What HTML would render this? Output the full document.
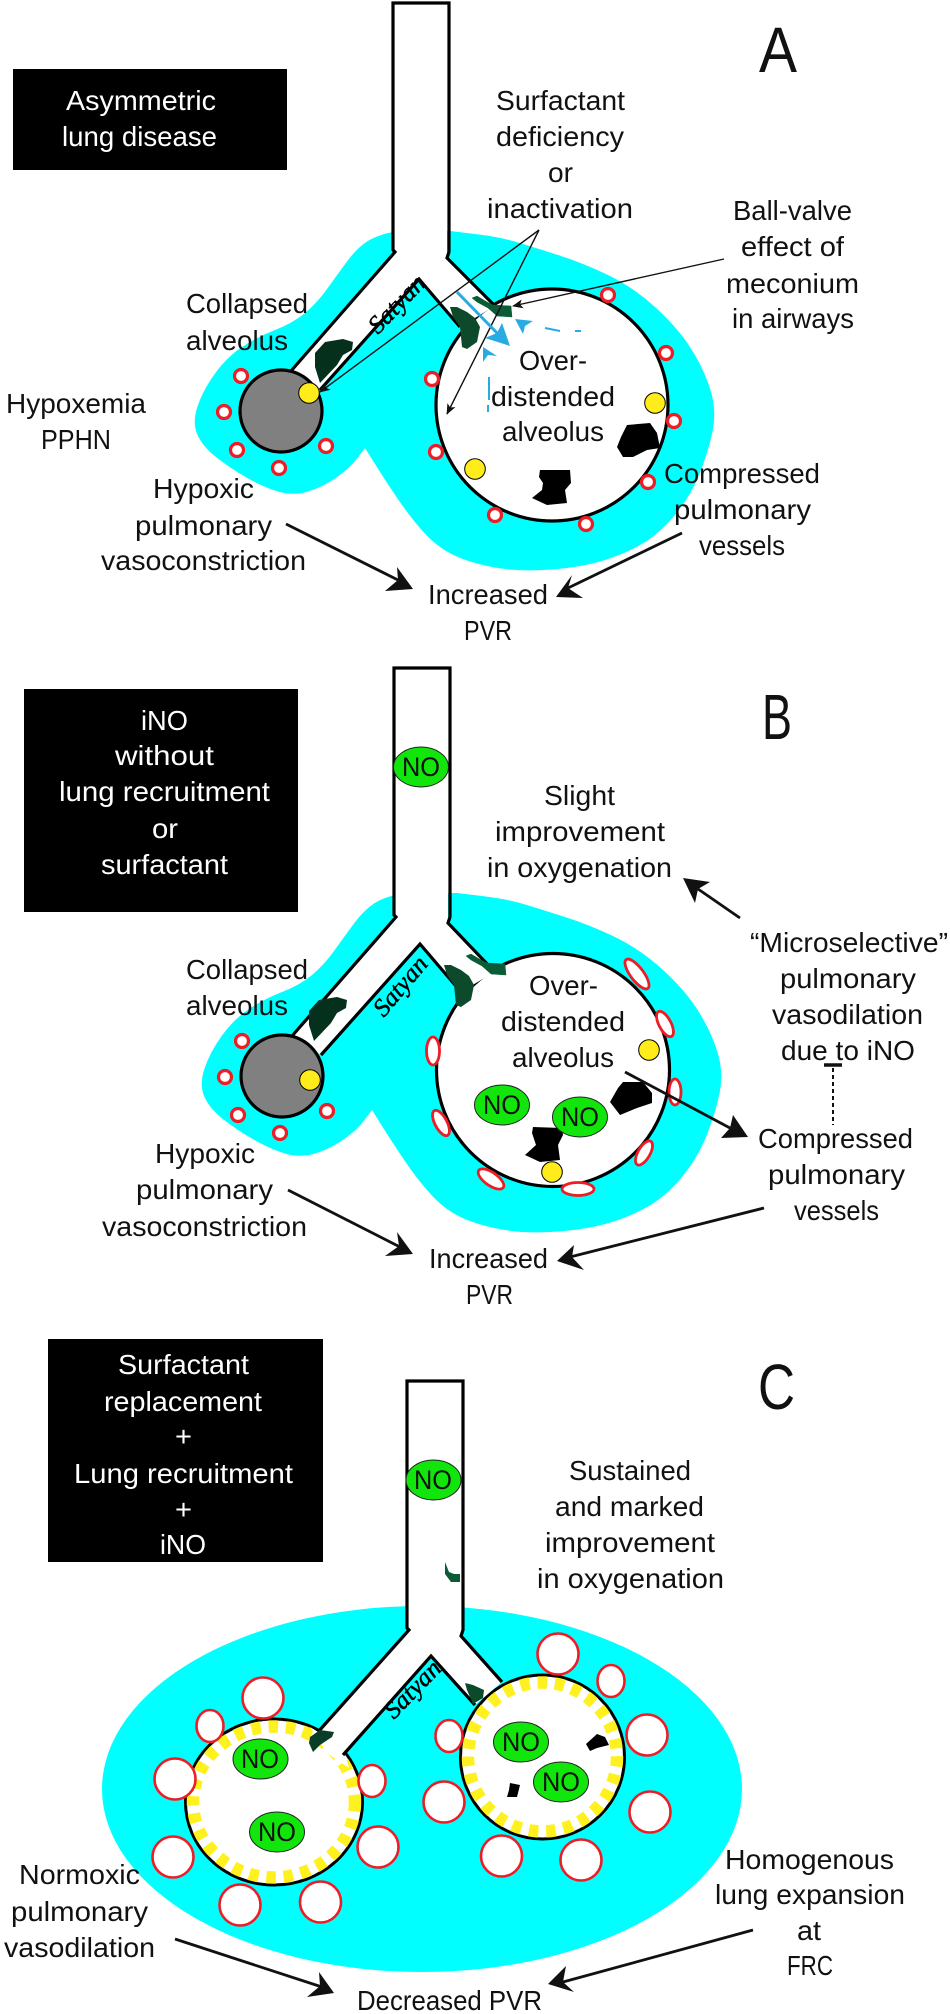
<!DOCTYPE html>
<html><head><meta charset="utf-8"><style>
html,body{margin:0;padding:0;background:#fff}
svg{display:block}
text{font-family:"Liberation Sans",sans-serif;font-size:27.5px;fill:#111}
.w text{fill:#fff}
.no{font-size:27px}
.big{font-size:64px}
.sat{font-family:"Liberation Serif",serif;font-style:italic;font-size:25px;fill:#000;stroke:#000;stroke-width:.5}
</style></head><body>
<svg xmlns="http://www.w3.org/2000/svg" width="950" height="2014" viewBox="0 0 950 2014">
<defs>
<marker id="t" viewBox="0 0 12 10" refX="11" refY="5" markerWidth="11" markerHeight="9" markerUnits="userSpaceOnUse" orient="auto"><path d="M0 0L12 5L0 10L3 5Z" fill="#111"/></marker>
<path id="blob" d="M393,232 Q377,235 367,241.5 Q357,248 347,261.5 Q337,275 327,289 Q317,303 305,313 Q293,323 275,330 Q257,337 242,347 Q227,357 215,373.5 Q203,390 197.5,406.5 Q192,423 197.5,435 Q203,447 216.5,457.5 Q230,468 246.5,477.5 Q263,487 278,491.5 Q293,496 308,491.5 Q323,487 336.5,477.5 Q350,468 357.5,458 L365,448 L375,464 Q385,480 397.5,498.5 Q410,517 423.5,532 Q437,547 453.5,555 Q470,563 495,567.5 Q520,572 551.5,569.5 Q583,567 605,560 Q627,553 643.5,543 Q660,533 675,515 Q690,497 699,475 Q708,453 712.5,431.5 Q717,410 710,388.5 Q703,367 690,347 Q677,327 655,307 Q633,287 608,275 Q583,263 558,255 Q533,247 516.5,242 Q500,237 475,234 L450,231 Z" fill="#00ffff"/>
<g id="mec">
<polygon points="472,298 477,296 487,302 493,305 511,306 512,317 497,316 488,308 477,302" fill="#0b5c36" stroke="#063" stroke-width=".5"/>
<path d="M450,307L457,307L467,312L475,318L480,327L477,342L467,349L462,347L460,327L453,317Z" fill="#0c4a2b"/>
<path d="M315,353L325,342L343,339L353,342L352,350L343,355L337,365L320,383L315,367Z" fill="#05301c"/>
</g>
<polygon id="tube" points="393,3 447,3 447,258 495,306 460,327 419,279 320,390 291,371 393,252" fill="#fff"/>
<g id="red"><g fill="#fff" stroke="#ee1c25" stroke-width="3.2"><circle cx="241" cy="376" r="6.5"/><circle cx="224" cy="412" r="6.5"/><circle cx="237" cy="450" r="6.5"/><circle cx="279" cy="468" r="6.5"/><circle cx="326" cy="446" r="6.5"/></g></g>
</defs>

<!-- PANEL A -->
<use href="#blob"/>
<circle cx="552" cy="405" r="116" fill="#fff" stroke="#000" stroke-width="3.2"/>
<use href="#tube"/>
<g fill="none" stroke="#000" stroke-width="3.2" stroke-linejoin="miter">
<path d="M291,371L395,252L393,250L393,3H449V252L447,258L495,306"/>
<path d="M320,390L419,279L460,327"/>
</g>
<circle cx="281" cy="411" r="41" fill="#808080" stroke="#000" stroke-width="3.2"/>
<use href="#mec"/>
<path d="M627,425L650,423L657,433L660,448L647,450L633,457L623,457L617,447L621,437Z" fill="#000"/>
<path d="M540,470L570,470L571,483L565,490L567,503L547,505L532,498L542,490L543,483L539,477Z" fill="#000"/>
<use href="#red"/>
<g fill="#fff" stroke="#ee1c25" stroke-width="3.2">
<circle cx="432" cy="379" r="6.5"/><circle cx="436" cy="452" r="6.5"/><circle cx="495" cy="515" r="6.5"/><circle cx="586" cy="524" r="6.5"/><circle cx="648" cy="482" r="6.5"/><circle cx="674" cy="421" r="6.5"/><circle cx="666" cy="353" r="6.5"/><circle cx="608" cy="295" r="6.5"/>
</g>
<g fill="#ffec1a" stroke="#000" stroke-width="1">
<circle cx="309" cy="393" r="10.3"/><circle cx="475" cy="469" r="10.3"/><circle cx="655" cy="403" r="10.3"/>
</g>
<!-- thin arrows -->
<g stroke="#111" stroke-width="1.4" fill="none">
<path d="M539,230L320,392" marker-end="url(#t)"/>
<path d="M539,230L447,414" marker-end="url(#t)"/>
<path d="M724,259L513,306" marker-end="url(#t)"/>
</g>
<!-- blue -->
<g stroke="#29abe2" fill="none">
<path d="M457,292L498,334" stroke-width="3"/>
<path d="M545,328L560,331M575,331L581,331" stroke-width="2"/>
<path d="M489,377V400M488,405V412" stroke-width="2"/>
</g>
<g fill="#29abe2">
<polygon points="510,346 485,338 497,333 502,323"/>
<polygon points="515,319 533,321 525,326 523,334"/>
<polygon points="483,347 497,356 488,355 483,362"/>
</g>
<!-- big arrows -->
<g stroke="#111" stroke-width="2.8" fill="none">
<path d="M286,524L398,580"/><path d="M682,533L568,588"/>
</g>
<polygon points="413,589 385,591 398,580 397,567" fill="#111"/>
<polygon points="556,597 572,575 568,588 583,598" fill="#111"/>
<text x="759" y="72" class="big" textLength="38" lengthAdjust="spacingAndGlyphs">A</text>

<rect x="13" y="69" width="274" height="101" fill="#000"/>
<g class="w">
<text x="66" y="110" textLength="150" lengthAdjust="spacingAndGlyphs">Asymmetric</text>
<text x="62" y="146" textLength="155" lengthAdjust="spacingAndGlyphs">lung disease</text>
</g>
<g>
<text x="496" y="110" textLength="129" lengthAdjust="spacingAndGlyphs">Surfactant</text>
<text x="496" y="146" textLength="128" lengthAdjust="spacingAndGlyphs">deficiency</text>
<text x="548" y="182" textLength="25" lengthAdjust="spacingAndGlyphs">or</text>
<text x="487" y="218" textLength="146" lengthAdjust="spacingAndGlyphs">inactivation</text>
<text x="733" y="220" textLength="119" lengthAdjust="spacingAndGlyphs">Ball-valve</text>
<text x="741" y="256" textLength="103" lengthAdjust="spacingAndGlyphs">effect of</text>
<text x="726" y="293" textLength="133" lengthAdjust="spacingAndGlyphs">meconium</text>
<text x="732" y="328" textLength="122" lengthAdjust="spacingAndGlyphs">in airways</text>
<text x="186" y="313" textLength="122" lengthAdjust="spacingAndGlyphs">Collapsed</text>
<text x="186" y="350" textLength="102" lengthAdjust="spacingAndGlyphs">alveolus</text>
<text x="6" y="413" textLength="140" lengthAdjust="spacingAndGlyphs">Hypoxemia</text>
<text x="41" y="449" textLength="70" lengthAdjust="spacingAndGlyphs">PPHN</text>
<text x="153" y="498" textLength="101" lengthAdjust="spacingAndGlyphs">Hypoxic</text>
<text x="135" y="535" textLength="137" lengthAdjust="spacingAndGlyphs">pulmonary</text>
<text x="101" y="570" textLength="205" lengthAdjust="spacingAndGlyphs">vasoconstriction</text>
<text x="519" y="370" textLength="68" lengthAdjust="spacingAndGlyphs">Over-</text>
<text x="491" y="406" textLength="124" lengthAdjust="spacingAndGlyphs">distended</text>
<text x="502" y="441" textLength="102" lengthAdjust="spacingAndGlyphs">alveolus</text>
<text x="664" y="483" textLength="156" lengthAdjust="spacingAndGlyphs">Compressed</text>
<text x="674" y="519" textLength="137" lengthAdjust="spacingAndGlyphs">pulmonary</text>
<text x="699" y="555" textLength="86" lengthAdjust="spacingAndGlyphs">vessels</text>
<text x="428" y="604" textLength="120" lengthAdjust="spacingAndGlyphs">Increased</text>
<text x="464" y="640" textLength="48" lengthAdjust="spacingAndGlyphs">PVR</text>
</g>
<text class="sat" transform="translate(378,335) rotate(-46)" textLength="70" lengthAdjust="spacingAndGlyphs">Satyan</text>

<!-- PANEL B -->
<g transform="translate(7,662)"><use href="#blob"/></g>
<circle cx="553" cy="1070" r="116.5" fill="#fff" stroke="#000" stroke-width="3.2"/>
<g transform="translate(1,665)"><use href="#tube"/>
<g fill="none" stroke="#000" stroke-width="3.2">
<path d="M291,371L395,252L393,250L393,3H449V252L447,258L490,303"/>
<path d="M320,390L419,279L460,327"/>
</g>
<circle cx="281" cy="411" r="41" fill="#808080" stroke="#000" stroke-width="3.2"/>
<use href="#red"/>
</g>
<g transform="translate(-6,658)"><use href="#mec"/></g>
<path d="M623,1082L643,1082L652,1093L652,1103L637,1108L620,1115L610,1102L618,1088Z" fill="#000"/>
<path d="M533,1127L562,1128L563,1135L558,1145L560,1160L540,1162L525,1155L536,1145L532,1133Z" fill="#000"/>
<g fill="#fff" stroke="#ee1c25" stroke-width="2.8">
<ellipse cx="637" cy="974" rx="18" ry="6.5" transform="rotate(53 637 974)"/>
<ellipse cx="665" cy="1024" rx="14" ry="6" transform="rotate(62 665 1024)"/>
<ellipse cx="433" cy="1051" rx="6.5" ry="14"/>
<ellipse cx="675" cy="1092" rx="6" ry="13"/>
<ellipse cx="644" cy="1153" rx="13.5" ry="6" transform="rotate(-60 644 1153)"/>
<ellipse cx="441" cy="1123" rx="14" ry="6" transform="rotate(62 441 1123)"/>
<ellipse cx="491" cy="1179" rx="15" ry="6.5" transform="rotate(35 491 1179)"/>
<ellipse cx="578" cy="1189" rx="16" ry="6.5"/>
</g>
<g fill="#ffec1a" stroke="#000" stroke-width="1">
<circle cx="310" cy="1080" r="10.3"/><circle cx="649" cy="1050" r="10.3"/><circle cx="552" cy="1172" r="10.3"/>
</g>
<g fill="#11e50c" stroke="#222" stroke-width="1">
<ellipse cx="421" cy="767" rx="27.5" ry="20"/><ellipse cx="502" cy="1105" rx="27.5" ry="20"/><ellipse cx="580" cy="1117" rx="27.5" ry="20"/>
</g>
<text x="402" y="776" class="no" textLength="38" lengthAdjust="spacingAndGlyphs">NO</text>
<text x="483" y="1114" class="no" textLength="38" lengthAdjust="spacingAndGlyphs">NO</text>
<text x="561" y="1126" class="no" textLength="38" lengthAdjust="spacingAndGlyphs">NO</text>
<g stroke="#111" stroke-width="2.8" fill="none">
<path d="M288,1190L400,1247"/><path d="M764,1208L570,1257"/>
<path d="M740,918L698,889"/><path d="M625,1072L730,1128"/>
<path d="M824,1065H842" stroke-width="3.5"/>
<path d="M833,1068V1125" stroke-dasharray="4 3" stroke-width="2"/>
</g>
<polygon points="413,1254 385,1256 399,1246 397,1232" fill="#111"/>
<polygon points="557,1261 574,1245 572,1257 584,1270" fill="#111"/>
<polygon points="683,878 710,882 698,889 695,903" fill="#111"/>
<polygon points="748,1137 733,1115 730,1128 721,1138" fill="#111"/>
<rect x="24" y="689" width="274" height="223" fill="#000"/>
<g class="w">
<text x="141" y="730" textLength="47" lengthAdjust="spacingAndGlyphs">iNO</text>
<text x="115" y="765" textLength="99" lengthAdjust="spacingAndGlyphs">without</text>
<text x="59" y="801" textLength="211" lengthAdjust="spacingAndGlyphs">lung recruitment</text>
<text x="152" y="838" textLength="26" lengthAdjust="spacingAndGlyphs">or</text>
<text x="101" y="874" textLength="127" lengthAdjust="spacingAndGlyphs">surfactant</text>
</g>
<text x="762" y="739" class="big" textLength="30" lengthAdjust="spacingAndGlyphs">B</text>
<g>
<text x="544" y="805" textLength="71" lengthAdjust="spacingAndGlyphs">Slight</text>
<text x="495" y="841" textLength="170" lengthAdjust="spacingAndGlyphs">improvement</text>
<text x="487" y="877" textLength="185" lengthAdjust="spacingAndGlyphs">in oxygenation</text>
<text x="750" y="952" textLength="198" lengthAdjust="spacingAndGlyphs">“Microselective”</text>
<text x="780" y="988" textLength="136" lengthAdjust="spacingAndGlyphs">pulmonary</text>
<text x="772" y="1024" textLength="151" lengthAdjust="spacingAndGlyphs">vasodilation</text>
<text x="781" y="1060" textLength="134" lengthAdjust="spacingAndGlyphs">due to iNO</text>
<text x="758" y="1148" textLength="155" lengthAdjust="spacingAndGlyphs">Compressed</text>
<text x="768" y="1184" textLength="137" lengthAdjust="spacingAndGlyphs">pulmonary</text>
<text x="794" y="1220" textLength="85" lengthAdjust="spacingAndGlyphs">vessels</text>
<text x="186" y="979" textLength="122" lengthAdjust="spacingAndGlyphs">Collapsed</text>
<text x="186" y="1015" textLength="102" lengthAdjust="spacingAndGlyphs">alveolus</text>
<text x="155" y="1163" textLength="100" lengthAdjust="spacingAndGlyphs">Hypoxic</text>
<text x="136" y="1199" textLength="137" lengthAdjust="spacingAndGlyphs">pulmonary</text>
<text x="102" y="1236" textLength="205" lengthAdjust="spacingAndGlyphs">vasoconstriction</text>
<text x="529" y="995" textLength="69" lengthAdjust="spacingAndGlyphs">Over-</text>
<text x="501" y="1031" textLength="124" lengthAdjust="spacingAndGlyphs">distended</text>
<text x="512" y="1067" textLength="102" lengthAdjust="spacingAndGlyphs">alveolus</text>
<text x="429" y="1268" textLength="119" lengthAdjust="spacingAndGlyphs">Increased</text>
<text x="466" y="1304" textLength="47" lengthAdjust="spacingAndGlyphs">PVR</text>
</g>
<text class="sat" transform="translate(384,1018) rotate(-50)" textLength="70" lengthAdjust="spacingAndGlyphs">Satyan</text>

<!-- PANEL C -->
<ellipse cx="422" cy="1789" rx="320" ry="183" fill="#00ffff"/>
<g fill="#fff" stroke="#000" stroke-width="3">
<ellipse cx="274" cy="1802" rx="88.5" ry="83"/>
<ellipse cx="542.5" cy="1757" rx="82" ry="82"/>
</g>
<g fill="none" stroke="#fff01f" stroke-width="12.5" stroke-dasharray="9.5 7.8">
<ellipse cx="274" cy="1802" rx="81" ry="75.5"/>
<ellipse cx="542.5" cy="1757" rx="74.5" ry="74.5"/>
</g>
<polygon points="407,1381 463,1381 463,1636 502,1682 475,1705 431,1656 345,1754 349,1768 328,1754 310,1727 318,1732 408,1630" fill="#fff"/>
<g fill="none" stroke="#000" stroke-width="3.2">
<path d="M318,1732L409,1630L407,1628V1381H463V1630L461,1636L502,1682"/>
<path d="M343,1755L431,1656L475,1705"/>
</g>
<g fill="#fff" stroke="#ee1c25" stroke-width="2.6">
<ellipse cx="263" cy="1698" rx="20.5" ry="20.5"/>
<ellipse cx="210" cy="1726" rx="13.5" ry="16"/>
<ellipse cx="175" cy="1779" rx="20.5" ry="20.5"/>
<ellipse cx="173" cy="1857" rx="20.5" ry="20.5"/>
<ellipse cx="240" cy="1905" rx="20.5" ry="20.5"/>
<ellipse cx="320.5" cy="1902" rx="20.5" ry="20.5"/>
<ellipse cx="378" cy="1847" rx="20.5" ry="20.5"/>
<ellipse cx="372" cy="1781" rx="13.5" ry="16"/>
<ellipse cx="449" cy="1736" rx="13.5" ry="16"/>
<ellipse cx="444" cy="1802" rx="20.5" ry="20.5"/>
<ellipse cx="501.5" cy="1856" rx="20.5" ry="20.5"/>
<ellipse cx="581" cy="1860" rx="20.5" ry="20.5"/>
<ellipse cx="650" cy="1812" rx="20.5" ry="20.5"/>
<ellipse cx="647" cy="1735" rx="20.5" ry="20.5"/>
<ellipse cx="611" cy="1681" rx="13.5" ry="16"/>
<ellipse cx="558" cy="1654" rx="20.5" ry="20.5"/>
</g>
<path d="M445,1562L449,1572L454,1574L460,1574L460,1582L451,1582L445,1574Z" fill="#0b5c36"/>
<path d="M310,1737L320,1730L334,1732L332,1737L320,1745L313,1752L309,1743Z" fill="#0a3d28"/>
<path d="M465,1683L473,1685L484,1690L483,1698L473,1704L467,1690Z" fill="#0c4a2b"/>
<path d="M597,1734L605,1737L609,1745L597,1748L590,1751L586,1744Z" fill="#000"/>
<path d="M510,1783L520,1785L517,1797L507,1797L509,1790Z" fill="#000"/>
<g fill="#11e50c" stroke="#222" stroke-width="1">
<ellipse cx="433.5" cy="1480" rx="27.5" ry="20"/>
<ellipse cx="260.5" cy="1759" rx="27.5" ry="20"/>
<ellipse cx="277" cy="1832" rx="27.5" ry="20"/>
<ellipse cx="521" cy="1742" rx="27.5" ry="20"/>
<ellipse cx="561" cy="1782" rx="27.5" ry="20"/>
</g>
<text x="414" y="1489" class="no" textLength="38" lengthAdjust="spacingAndGlyphs">NO</text>
<text x="241" y="1768" class="no" textLength="38" lengthAdjust="spacingAndGlyphs">NO</text>
<text x="258" y="1841" class="no" textLength="38" lengthAdjust="spacingAndGlyphs">NO</text>
<text x="502" y="1751" class="no" textLength="38" lengthAdjust="spacingAndGlyphs">NO</text>
<text x="542" y="1791" class="no" textLength="38" lengthAdjust="spacingAndGlyphs">NO</text>
<g stroke="#111" stroke-width="2.8" fill="none">
<path d="M175,1939L322,1987"/><path d="M753,1930L563,1982"/>
</g>
<polygon points="334,1993 307,1997 320,1986 319,1972" fill="#111"/>
<polygon points="548,1984 566,1966 563,1982 574,1992" fill="#111"/>
<rect x="48" y="1339" width="275" height="223" fill="#000"/>
<g class="w">
<text x="118" y="1374" textLength="131" lengthAdjust="spacingAndGlyphs">Surfactant</text>
<text x="104" y="1411" textLength="158" lengthAdjust="spacingAndGlyphs">replacement</text>
<text x="175" y="1446" textLength="17" lengthAdjust="spacingAndGlyphs">+</text>
<text x="74" y="1483" textLength="219" lengthAdjust="spacingAndGlyphs">Lung recruitment</text>
<text x="175" y="1519" textLength="17" lengthAdjust="spacingAndGlyphs">+</text>
<text x="160" y="1554" textLength="46" lengthAdjust="spacingAndGlyphs">iNO</text>
</g>
<text x="758" y="1409" class="big" textLength="37" lengthAdjust="spacingAndGlyphs">C</text>
<g>
<text x="569" y="1480" textLength="122" lengthAdjust="spacingAndGlyphs">Sustained</text>
<text x="555" y="1516" textLength="149" lengthAdjust="spacingAndGlyphs">and marked</text>
<text x="545" y="1552" textLength="170" lengthAdjust="spacingAndGlyphs">improvement</text>
<text x="537" y="1588" textLength="187" lengthAdjust="spacingAndGlyphs">in oxygenation</text>
<text x="19" y="1884" textLength="121" lengthAdjust="spacingAndGlyphs">Normoxic</text>
<text x="11" y="1921" textLength="137" lengthAdjust="spacingAndGlyphs">pulmonary</text>
<text x="4" y="1957" textLength="151" lengthAdjust="spacingAndGlyphs">vasodilation</text>
<text x="725" y="1869" textLength="169" lengthAdjust="spacingAndGlyphs">Homogenous</text>
<text x="715" y="1904" textLength="190" lengthAdjust="spacingAndGlyphs">lung expansion</text>
<text x="797" y="1940" textLength="24" lengthAdjust="spacingAndGlyphs">at</text>
<text x="787" y="1975" textLength="46" lengthAdjust="spacingAndGlyphs">FRC</text>
<text x="357" y="2010" textLength="185" lengthAdjust="spacingAndGlyphs">Decreased PVR</text>
</g>
<text class="sat" transform="translate(394,1720) rotate(-46)" textLength="70" lengthAdjust="spacingAndGlyphs">Satyan</text>
</svg>
</body></html>
